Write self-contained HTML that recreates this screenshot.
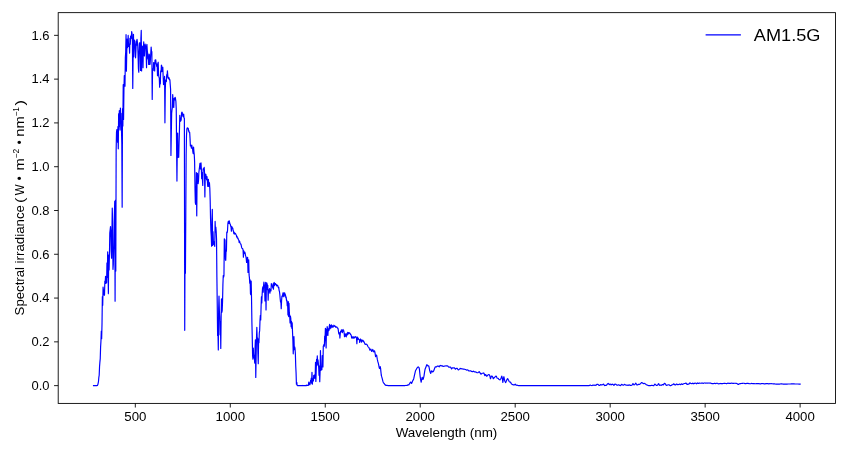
<!DOCTYPE html>
<html><head><meta charset="utf-8"><title>AM1.5G spectrum</title>
<style>
html,body{margin:0;padding:0;background:#fff;}
body{width:848px;height:452px;overflow:hidden;font-family:"Liberation Sans",sans-serif;}
svg{display:block;will-change:transform;}
text{font-family:"Liberation Sans",sans-serif;fill:#000;}
.tk{font-size:11.9px;}
.lb{font-size:12.4px;}
.lg{font-size:17.4px;}
.sp{font-size:8.6px;}
</style></head>
<body>
<svg width="848" height="452" viewBox="0 0 848 452">
<rect x="0" y="0" width="848" height="452" fill="#fff"/>
<rect x="58.2" y="12.65" width="777.25" height="390.75" fill="none" stroke="#000" stroke-width="0.88"/>
<line x1="135.32" y1="403.4" x2="135.32" y2="407.53" stroke="#000" stroke-width="0.88"/>
<text x="135.32" y="421.1" text-anchor="middle" class="tk" textLength="22.1" lengthAdjust="spacingAndGlyphs">500</text>
<line x1="230.29" y1="403.4" x2="230.29" y2="407.53" stroke="#000" stroke-width="0.88"/>
<text x="230.29" y="421.1" text-anchor="middle" class="tk" textLength="29.4" lengthAdjust="spacingAndGlyphs">1000</text>
<line x1="325.26" y1="403.4" x2="325.26" y2="407.53" stroke="#000" stroke-width="0.88"/>
<text x="325.26" y="421.1" text-anchor="middle" class="tk" textLength="29.4" lengthAdjust="spacingAndGlyphs">1500</text>
<line x1="420.23" y1="403.4" x2="420.23" y2="407.53" stroke="#000" stroke-width="0.88"/>
<text x="420.23" y="421.1" text-anchor="middle" class="tk" textLength="29.4" lengthAdjust="spacingAndGlyphs">2000</text>
<line x1="515.20" y1="403.4" x2="515.20" y2="407.53" stroke="#000" stroke-width="0.88"/>
<text x="515.20" y="421.1" text-anchor="middle" class="tk" textLength="29.4" lengthAdjust="spacingAndGlyphs">2500</text>
<line x1="610.18" y1="403.4" x2="610.18" y2="407.53" stroke="#000" stroke-width="0.88"/>
<text x="610.18" y="421.1" text-anchor="middle" class="tk" textLength="29.4" lengthAdjust="spacingAndGlyphs">3000</text>
<line x1="705.15" y1="403.4" x2="705.15" y2="407.53" stroke="#000" stroke-width="0.88"/>
<text x="705.15" y="421.1" text-anchor="middle" class="tk" textLength="29.4" lengthAdjust="spacingAndGlyphs">3500</text>
<line x1="800.12" y1="403.4" x2="800.12" y2="407.53" stroke="#000" stroke-width="0.88"/>
<text x="800.12" y="421.1" text-anchor="middle" class="tk" textLength="29.4" lengthAdjust="spacingAndGlyphs">4000</text>
<line x1="58.2" y1="385.64" x2="54.07" y2="385.64" stroke="#000" stroke-width="0.88"/>
<text x="49.5" y="389.99" text-anchor="end" class="tk" textLength="18.0" lengthAdjust="spacingAndGlyphs">0.0</text>
<line x1="58.2" y1="341.85" x2="54.07" y2="341.85" stroke="#000" stroke-width="0.88"/>
<text x="49.5" y="346.20" text-anchor="end" class="tk" textLength="18.0" lengthAdjust="spacingAndGlyphs">0.2</text>
<line x1="58.2" y1="298.07" x2="54.07" y2="298.07" stroke="#000" stroke-width="0.88"/>
<text x="49.5" y="302.42" text-anchor="end" class="tk" textLength="18.0" lengthAdjust="spacingAndGlyphs">0.4</text>
<line x1="58.2" y1="254.28" x2="54.07" y2="254.28" stroke="#000" stroke-width="0.88"/>
<text x="49.5" y="258.63" text-anchor="end" class="tk" textLength="18.0" lengthAdjust="spacingAndGlyphs">0.6</text>
<line x1="58.2" y1="210.50" x2="54.07" y2="210.50" stroke="#000" stroke-width="0.88"/>
<text x="49.5" y="214.85" text-anchor="end" class="tk" textLength="18.0" lengthAdjust="spacingAndGlyphs">0.8</text>
<line x1="58.2" y1="166.71" x2="54.07" y2="166.71" stroke="#000" stroke-width="0.88"/>
<text x="49.5" y="171.06" text-anchor="end" class="tk" textLength="18.0" lengthAdjust="spacingAndGlyphs">1.0</text>
<line x1="58.2" y1="122.92" x2="54.07" y2="122.92" stroke="#000" stroke-width="0.88"/>
<text x="49.5" y="127.27" text-anchor="end" class="tk" textLength="18.0" lengthAdjust="spacingAndGlyphs">1.2</text>
<line x1="58.2" y1="79.14" x2="54.07" y2="79.14" stroke="#000" stroke-width="0.88"/>
<text x="49.5" y="83.49" text-anchor="end" class="tk" textLength="18.0" lengthAdjust="spacingAndGlyphs">1.4</text>
<line x1="58.2" y1="35.35" x2="54.07" y2="35.35" stroke="#000" stroke-width="0.88"/>
<text x="49.5" y="39.70" text-anchor="end" class="tk" textLength="18.0" lengthAdjust="spacingAndGlyphs">1.6</text>
<polyline points="93.53,385.64 93.88,385.64 94.24,385.64 94.59,385.64 94.94,385.64 95.30,385.64 95.65,385.64 96.00,385.64 96.36,385.64 96.71,385.62 97.06,385.55 97.42,385.37 97.77,384.80 98.12,383.36 98.48,381.51 98.83,377.44 99.19,375.24 99.54,366.68 99.89,362.09 100.25,358.61 100.60,347.03 100.95,341.13 101.31,330.98 101.66,338.75 102.01,323.94 102.37,296.58 102.72,305.31 103.07,287.09 103.43,290.00 103.78,294.90 104.13,291.88 104.49,295.18 104.84,281.17 105.19,282.80 105.55,276.34 105.90,283.39 106.25,277.50 106.61,282.57 106.96,262.90 107.31,277.42 107.67,251.93 108.02,268.88 108.38,293.63 108.73,254.97 109.08,269.97 109.44,255.27 109.79,233.18 110.14,230.17 110.50,226.56 110.85,231.63 111.20,251.39 111.56,258.12 111.91,234.61 112.26,208.12 112.62,221.49 112.97,269.35 113.32,264.40 113.68,248.89 114.03,246.26 114.38,214.50 114.74,201.28 115.09,301.28 115.44,200.10 115.80,271.10 116.15,150.11 116.51,132.01 116.86,129.64 117.21,131.61 117.57,142.24 117.92,126.62 118.27,148.82 118.63,113.86 118.98,126.35 119.33,110.48 119.69,124.40 120.04,130.07 120.39,107.99 120.75,119.32 121.10,113.42 121.45,128.93 121.81,143.22 122.16,207.15 122.51,108.50 122.87,126.10 123.22,84.63 123.57,119.53 123.93,90.27 124.28,75.70 124.64,75.38 124.99,86.19 125.34,57.48 125.70,52.11 126.05,34.67 126.40,71.12 126.76,52.16 127.11,39.15 127.46,47.74 127.82,44.89 128.17,35.44 128.52,46.32 128.88,43.94 129.23,44.34 129.58,53.11 129.94,38.24 130.29,44.30 130.64,36.13 131.00,38.53 131.35,36.50 131.70,31.48 132.06,33.83 132.41,41.96 132.76,88.44 133.12,56.51 133.47,34.37 133.83,56.81 134.18,45.60 134.53,40.11 134.89,43.52 135.24,46.87 135.59,57.84 135.95,50.22 136.30,40.97 136.65,45.27 137.01,39.38 137.36,41.95 137.71,44.50 138.07,55.28 138.42,68.47 138.77,72.26 139.13,51.93 139.48,42.73 139.83,42.76 140.19,46.34 140.54,70.51 140.89,38.79 141.25,30.41 141.60,70.95 141.96,45.80 142.31,52.41 142.66,46.74 143.02,67.74 143.37,48.24 143.72,41.88 144.08,50.38 144.43,55.92 144.78,48.07 145.14,44.08 145.49,48.13 145.84,45.82 146.20,55.54 146.55,67.78 146.90,44.23 147.26,50.01 147.61,53.42 147.96,58.87 148.32,56.93 148.67,64.51 149.02,54.08 149.38,54.84 149.73,64.52 150.09,64.33 150.44,58.94 150.79,52.92 151.15,46.98 151.50,51.72 151.85,51.50 152.21,99.53 152.56,69.33 152.91,68.50 153.27,70.38 153.62,62.49 153.97,65.85 154.33,62.96 154.68,70.97 155.03,60.09 155.39,60.60 155.74,59.76 156.09,63.27 156.45,64.58 156.80,66.58 157.15,64.25 157.51,75.65 157.86,63.56 158.21,62.20 158.57,74.18 158.92,77.10 159.28,77.70 159.63,87.11 159.98,80.20 160.34,83.81 160.69,70.84 161.04,72.27 161.40,65.15 161.75,66.06 162.10,71.51 162.46,68.03 162.81,67.32 163.16,76.70 163.52,84.59 163.87,81.95 164.22,80.17 164.58,76.46 164.93,122.86 165.28,89.71 165.64,80.02 165.99,81.83 166.34,81.61 166.70,74.50 167.05,76.83 167.41,70.86 167.76,75.32 168.11,78.00 168.47,78.83 168.82,77.58 169.17,78.32 169.53,79.93 169.88,79.61 170.23,84.50 170.59,89.29 170.94,155.52 171.29,133.92 171.65,113.56 172.00,109.99 172.35,107.36 172.71,94.59 173.06,101.08 173.41,106.95 173.77,107.48 174.12,98.45 174.47,98.06 174.83,99.97 175.18,97.42 175.54,98.99 175.89,101.38 176.24,108.78 176.60,148.67 176.95,181.08 177.30,146.49 177.66,133.02 178.01,157.48 178.36,148.41 178.72,157.25 179.07,142.98 179.42,131.19 179.78,115.37 180.13,121.44 180.48,118.10 180.84,120.88 181.19,119.63 181.54,113.26 181.90,112.18 182.25,112.64 182.60,115.06 182.96,116.44 183.31,116.65 183.66,114.16 184.02,117.94 184.37,118.45 184.73,330.34 185.08,237.31 185.43,273.20 185.79,215.66 186.14,155.13 186.49,135.66 186.85,129.22 187.20,127.94 187.55,127.93 187.91,128.70 188.26,128.38 188.61,131.27 188.97,130.80 189.32,132.74 189.67,132.39 190.03,138.17 190.38,145.99 190.73,145.28 191.09,146.24 191.44,148.29 191.79,145.18 192.15,147.68 192.50,148.24 192.86,151.98 193.21,153.65 193.56,147.01 193.92,151.75 194.27,154.68 194.62,161.74 194.98,187.98 195.33,202.74 195.68,204.33 196.04,193.82 196.39,172.58 196.74,215.87 197.10,175.39 197.45,173.42 197.80,182.63 198.16,183.65 198.51,180.37 198.86,172.70 199.22,169.39 199.57,166.79 199.92,163.44 200.28,167.36 200.63,169.13 200.99,162.75 201.34,168.47 201.69,178.76 202.05,172.58 202.40,178.55 202.75,185.39 203.11,168.99 203.46,168.51 203.81,169.48 204.17,167.30 204.52,172.43 204.87,196.96 205.23,175.76 205.58,174.15 205.93,174.60 206.29,178.42 206.64,179.90 206.99,176.61 207.35,180.45 207.70,186.30 208.05,182.15 208.41,179.40 208.76,186.51 209.11,182.32 209.47,183.20 209.82,188.59 210.18,200.15 210.53,218.34 210.88,230.44 211.24,236.23 211.59,246.16 211.94,220.79 212.30,209.23 212.65,245.45 213.00,231.51 213.36,240.75 213.71,244.31 214.06,241.93 214.42,244.69 214.77,246.31 215.12,221.45 215.48,232.13 215.83,227.07 216.18,231.23 216.54,239.39 216.89,277.07 217.24,303.78 217.60,335.53 217.95,331.65 218.31,349.91 218.66,308.33 219.01,296.13 219.37,310.56 219.72,316.72 220.07,334.80 220.43,322.04 220.78,348.46 221.13,317.17 221.49,298.84 221.84,312.42 222.19,310.60 222.55,301.34 222.90,285.10 223.25,275.61 223.61,277.11 223.96,275.62 224.31,238.81 224.67,239.66 225.02,239.82 225.37,259.29 225.73,260.38 226.08,250.20 226.44,251.13 226.79,232.11 227.14,232.76 227.50,230.96 227.85,223.95 228.20,221.70 228.56,221.24 228.91,223.43 229.26,220.85 229.62,222.61 229.97,223.90 230.32,224.30 230.68,226.19 231.03,227.04 231.38,231.25 231.74,226.45 232.09,228.13 232.44,227.70 232.80,228.39 233.15,230.55 233.50,231.53 233.86,233.67 234.21,232.22 234.56,234.04 234.92,233.88 235.27,233.35 235.63,233.89 235.98,234.50 236.33,235.06 236.69,237.02 237.04,236.29 237.39,238.15 237.75,237.83 238.10,238.56 238.45,239.97 238.81,240.02 239.16,242.45 239.51,241.01 239.87,242.27 240.22,243.20 240.57,244.04 240.93,244.12 241.28,245.73 241.63,247.44 241.99,248.16 242.34,248.43 242.69,248.73 243.05,249.87 243.40,257.15 243.76,250.92 244.11,252.86 244.46,253.48 244.82,252.15 245.17,253.46 245.52,255.61 245.88,256.48 246.23,258.65 246.58,262.47 246.94,257.82 247.29,261.43 247.64,257.40 248.00,272.42 248.35,271.98 248.70,259.83 249.06,274.68 249.41,277.65 249.76,283.28 250.12,279.93 250.47,293.81 250.82,294.71 251.18,281.14 251.53,298.04 251.89,322.07 252.24,336.86 252.59,355.57 252.95,359.10 253.30,348.15 253.65,357.58 254.01,355.12 254.36,357.61 254.71,363.06 255.07,348.25 255.42,339.80 255.77,377.46 256.13,356.47 256.48,339.08 256.83,327.27 257.19,339.10 257.54,337.88 257.89,352.82 258.25,363.70 258.60,338.95 258.95,342.62 259.31,333.04 259.66,330.63 260.01,320.47 260.37,315.41 260.72,319.98 261.08,306.91 261.43,296.81 261.78,302.96 262.14,294.49 262.49,288.92 262.84,286.94 263.20,292.17 263.55,286.02 263.90,282.20 264.26,284.36 264.61,286.97 264.96,300.94 265.32,294.84 265.67,282.46 266.02,309.92 266.38,284.46 266.73,282.85 267.08,283.89 267.44,289.77 267.79,285.33 268.14,300.28 268.50,289.95 268.85,290.94 269.21,291.90 269.56,288.66 269.91,293.28 270.27,289.55 270.62,289.43 270.97,290.86 271.33,283.65 271.68,285.16 272.03,285.93 272.39,285.69 272.74,287.99 273.09,283.96 273.45,289.27 273.80,283.47 274.15,282.47 274.51,285.70 274.86,283.44 275.21,283.59 275.57,283.62 275.92,284.70 276.27,284.50 276.63,285.95 276.98,285.16 277.34,285.32 277.69,285.32 278.04,286.70 278.40,287.86 278.75,287.26 279.10,290.32 279.46,291.52 279.81,294.31 280.16,298.45 280.52,302.02 280.87,301.10 281.22,308.71 281.58,300.75 281.93,296.16 282.28,296.72 282.64,294.77 282.99,292.92 283.34,292.87 283.70,296.74 284.05,296.34 284.40,292.88 284.76,292.96 285.11,295.15 285.46,294.72 285.82,297.66 286.17,297.10 286.53,300.62 286.88,300.17 287.23,305.78 287.59,302.12 287.94,314.95 288.29,301.55 288.65,316.56 289.00,303.26 289.35,312.91 289.71,316.20 290.06,322.89 290.41,316.08 290.77,318.33 291.12,326.72 291.47,321.32 291.83,328.29 292.18,322.79 292.53,332.24 292.89,340.37 293.24,353.85 293.59,343.31 293.95,336.57 294.30,349.59 294.66,346.89 295.01,348.46 295.36,353.26 295.72,365.77 296.07,372.77 296.42,384.16 296.78,382.22 297.13,385.24 297.48,385.59 297.84,385.63 298.19,385.63 298.54,385.64 298.90,385.64 299.25,385.64 299.60,385.64 299.96,385.64 300.31,385.64 300.66,385.64 301.02,385.63 301.37,385.59 301.72,385.58 302.08,385.41 302.43,385.62 302.79,385.64 303.14,385.64 303.49,385.64 303.85,385.61 304.20,385.51 304.55,385.56 304.91,385.62 305.26,385.63 305.61,385.63 305.97,385.40 306.32,385.64 306.67,385.22 307.03,385.48 307.38,385.25 307.73,385.37 308.09,385.52 308.44,385.12 308.79,382.07 309.15,384.30 309.50,383.05 309.85,384.89 310.21,383.68 310.56,380.46 310.91,381.00 311.27,377.97 311.62,383.22 311.98,372.29 312.33,384.21 312.68,380.32 313.04,378.59 313.39,380.91 313.74,375.37 314.10,378.46 314.45,375.47 314.80,374.60 315.16,378.27 315.51,362.28 315.86,381.49 316.22,370.33 316.57,359.38 316.92,365.59 317.28,355.90 317.63,364.05 317.98,359.78 318.34,363.05 318.69,367.74 319.04,375.30 319.40,366.20 319.75,381.70 320.11,371.01 320.46,350.62 320.81,370.46 321.17,366.31 321.52,368.77 321.87,369.66 322.23,355.60 322.58,358.58 322.93,366.90 323.29,346.08 323.64,345.74 323.99,344.31 324.35,346.25 324.70,336.03 325.05,338.56 325.41,328.26 325.76,341.23 326.11,347.99 326.47,329.41 326.82,335.07 327.17,326.51 327.53,328.51 327.88,335.48 328.24,328.74 328.59,330.74 328.94,330.47 329.30,326.02 329.65,324.43 330.00,328.84 330.36,328.03 330.71,325.52 331.06,328.03 331.42,324.80 331.77,326.88 332.12,325.55 332.48,326.08 332.83,327.38 333.18,326.70 333.54,326.07 333.89,325.20 334.24,326.26 334.60,325.90 334.95,326.40 335.30,326.23 335.66,327.22 336.01,327.05 336.36,326.90 336.72,327.17 337.07,327.10 337.43,328.10 337.78,328.08 338.13,329.02 338.49,331.66 338.84,333.89 339.19,333.83 339.55,332.83 339.90,338.06 340.25,333.84 340.61,331.38 340.96,331.87 341.31,330.03 341.67,329.88 342.02,331.63 342.37,332.70 342.73,330.51 343.08,329.46 343.43,331.14 343.79,330.72 344.14,333.00 344.49,336.72 344.85,336.49 345.20,333.82 345.56,334.35 345.91,335.71 346.26,336.86 346.62,334.52 346.97,333.28 347.32,335.04 347.68,332.33 348.03,334.12 348.38,333.83 348.74,332.53 349.09,333.39 349.44,332.89 349.80,332.98 350.15,333.52 350.50,334.57 350.86,334.53 351.21,335.24 351.56,337.44 351.92,338.21 352.27,337.54 352.62,336.77 352.98,338.01 353.33,337.70 353.69,336.84 354.04,338.30 354.39,337.42 354.75,337.03 355.10,336.93 355.45,337.17 355.81,336.66 356.16,337.20 356.51,338.33 356.87,343.74 357.22,338.63 357.57,337.18 357.93,339.30 358.28,338.39 358.63,339.20 358.99,339.55 359.34,339.68 359.69,342.50 360.05,340.21 360.40,338.96 360.75,340.63 361.11,340.10 361.46,342.27 361.81,339.89 362.17,340.48 362.52,340.87 362.88,340.25 363.23,341.77 363.58,341.10 363.94,341.71 364.29,342.54 364.64,343.35 365.00,344.15 365.35,344.42 365.70,344.28 366.06,344.14 366.41,344.31 366.76,344.53 367.12,344.84 367.47,345.57 367.82,346.29 368.18,346.82 368.53,347.14 368.88,347.47 369.24,348.37 369.59,349.39 369.94,350.20 370.30,349.66 370.65,349.12 371.01,349.31 371.36,350.39 371.71,351.48 372.07,351.07 372.42,350.19 372.77,349.45 373.13,350.48 373.48,351.51 373.83,351.92 374.19,351.35 374.54,350.79 374.89,352.16 375.25,354.37 375.60,356.55 375.95,355.82 376.31,355.10 376.66,355.32 377.01,357.51 377.37,359.70 377.72,361.24 378.07,362.41 378.43,363.58 378.78,365.46 379.14,367.38 379.49,368.53 379.84,367.56 380.20,366.58 380.55,368.15 380.90,371.57 381.26,374.99 381.61,376.46 381.96,377.69 382.32,378.95 382.67,380.34 383.02,381.73 383.38,382.61 383.73,383.03 384.08,383.45 384.44,383.95 384.79,384.47 385.14,384.95 385.50,385.13 385.85,385.32 386.20,385.41 386.56,385.39 386.91,385.37 387.26,385.44 387.62,385.54 387.97,385.64 388.33,385.64 388.68,385.64 389.03,385.64 389.39,385.64 389.74,385.64 390.09,385.64 390.45,385.64 390.80,385.64 391.15,385.64 391.51,385.64 391.86,385.64 392.21,385.64 392.57,385.64 392.92,385.64 393.27,385.64 393.63,385.64 393.98,385.64 394.33,385.64 394.69,385.64 395.04,385.64 395.39,385.64 395.75,385.64 396.10,385.64 396.46,385.64 396.81,385.63 397.16,385.63 397.52,385.62 397.87,385.62 398.22,385.63 398.58,385.62 398.93,385.61 399.28,385.59 399.64,385.60 399.99,385.60 400.34,385.61 400.70,385.62 401.05,385.63 401.40,385.64 401.76,385.64 402.11,385.64 402.46,385.64 402.82,385.64 403.17,385.63 403.52,385.63 403.88,385.63 404.23,385.62 404.59,385.58 404.94,385.55 405.29,385.51 405.65,385.47 406.00,385.43 406.35,385.47 406.71,385.50 407.06,385.43 407.41,385.18 407.77,384.94 408.12,384.87 408.47,384.89 408.83,384.92 409.18,384.32 409.53,383.70 409.89,383.12 410.24,382.65 410.59,382.17 410.95,382.30 411.30,382.85 411.65,383.39 412.01,382.56 412.36,381.59 412.71,380.72 413.07,380.18 413.42,379.64 413.78,378.49 414.13,376.84 414.48,375.19 414.84,373.62 415.19,372.08 415.54,370.68 415.90,370.06 416.25,369.43 416.60,368.81 416.96,368.20 417.31,367.58 417.66,367.29 418.02,367.08 418.37,366.93 418.72,367.29 419.08,367.65 419.43,369.33 419.78,372.84 420.14,376.34 420.49,378.66 420.84,380.55 421.20,382.27 421.55,380.25 421.91,378.23 422.26,377.32 422.61,378.39 422.97,379.45 423.32,378.80 423.67,377.31 424.03,375.82 424.38,373.46 424.73,371.10 425.09,369.17 425.44,368.29 425.79,367.41 426.15,366.49 426.50,365.55 426.85,364.61 427.21,365.03 427.56,365.57 427.91,365.96 428.27,365.85 428.62,365.75 428.97,366.74 429.33,368.62 429.68,370.51 430.04,371.68 430.39,372.74 430.74,373.41 431.10,372.25 431.45,371.08 431.80,370.78 432.16,371.38 432.51,371.97 432.86,371.84 433.22,371.53 433.57,371.15 433.92,370.19 434.28,369.23 434.63,368.36 434.98,367.59 435.34,366.83 435.69,366.74 436.04,366.88 436.40,366.99 436.75,366.66 437.10,366.34 437.46,366.11 437.81,366.06 438.16,366.01 438.52,366.19 438.87,366.49 439.23,366.78 439.58,366.21 439.93,365.64 440.29,365.33 440.64,365.62 440.99,365.90 441.35,365.91 441.70,365.74 442.05,365.58 442.41,365.88 442.76,366.21 443.11,366.44 443.47,366.36 443.82,366.27 444.17,366.18 444.53,366.09 444.88,366.00 445.23,365.97 445.59,365.94 445.94,365.91 446.29,365.86 446.65,365.80 447.00,365.82 447.36,365.92 447.71,366.03 448.06,366.37 448.42,366.76 448.77,367.11 449.12,367.09 449.48,367.07 449.83,367.09 450.18,367.14 450.54,367.20 450.89,367.69 451.24,368.33 451.60,368.90 451.95,368.44 452.30,367.98 452.66,367.74 453.01,367.86 453.36,367.99 453.72,367.95 454.07,367.84 454.42,367.73 454.78,368.32 455.13,368.91 455.49,369.20 455.84,368.83 456.19,368.46 456.55,368.33 456.90,368.34 457.25,368.34 457.61,368.94 457.96,369.58 458.31,369.99 458.67,369.76 459.02,369.53 459.37,369.19 459.73,368.76 460.08,368.32 460.43,368.49 460.79,368.74 461.14,368.92 461.49,368.80 461.85,368.68 462.20,368.72 462.55,368.90 462.91,369.09 463.26,369.10 463.61,369.07 463.97,369.07 464.32,369.19 464.68,369.31 465.03,369.42 465.38,369.51 465.74,369.61 466.09,369.77 466.44,369.96 466.80,370.12 467.15,370.03 467.50,369.94 467.86,370.02 468.21,370.37 468.56,370.72 468.92,370.86 469.27,370.92 469.62,370.98 469.98,370.89 470.33,370.79 470.68,370.81 471.04,371.08 471.39,371.34 471.74,371.48 472.10,371.55 472.45,371.62 472.81,371.45 473.16,371.26 473.51,371.20 473.87,371.46 474.22,371.72 474.57,371.82 474.93,371.81 475.28,371.80 475.63,371.94 475.99,372.10 476.34,372.27 476.69,372.47 477.05,372.67 477.40,372.75 477.75,372.72 478.11,372.69 478.46,372.36 478.81,371.98 479.17,371.72 479.52,372.19 479.87,372.66 480.23,373.14 480.58,373.64 480.94,374.14 481.29,373.98 481.64,373.64 482.00,373.33 482.35,373.28 482.70,373.23 483.06,373.16 483.41,373.07 483.76,372.97 484.12,373.65 484.47,374.64 484.82,375.59 485.18,375.14 485.53,374.68 485.88,374.66 486.24,375.46 486.59,376.27 486.94,376.23 487.30,375.75 487.65,375.26 488.00,375.03 488.36,374.80 488.71,374.66 489.06,374.73 489.42,374.79 489.77,375.72 490.13,377.23 490.48,378.75 490.83,377.91 491.19,376.82 491.54,376.00 491.89,376.13 492.25,376.26 492.60,376.83 492.95,377.79 493.31,378.74 493.66,378.46 494.01,377.95 494.37,377.47 494.72,377.19 495.07,376.90 495.43,376.61 495.78,376.32 496.13,376.04 496.49,376.65 496.84,377.51 497.19,378.28 497.55,378.26 497.90,378.25 498.26,378.45 498.61,378.98 498.96,379.52 499.32,379.70 499.67,379.76 500.02,379.80 500.38,379.27 500.73,378.74 501.08,378.05 501.44,377.07 501.79,376.09 502.14,377.40 502.50,379.86 502.85,382.33 503.20,380.12 503.56,377.81 503.91,376.70 504.26,378.53 504.62,380.36 504.97,381.44 505.32,382.02 505.68,382.61 506.03,381.82 506.39,380.90 506.74,380.04 507.09,379.34 507.45,378.65 507.80,378.74 508.15,379.49 508.51,380.24 508.86,380.87 509.21,381.47 509.57,381.98 509.92,382.00 510.27,382.02 510.63,382.37 510.98,383.05 511.33,383.74 511.69,384.04 512.04,384.23 512.39,384.43 512.75,384.60 513.10,384.77 513.45,384.89 513.81,384.94 514.16,385.00 514.51,384.76 514.87,384.42 515.22,384.11 515.58,384.57 515.93,385.02 516.28,385.29 516.64,385.23 516.99,385.17 517.34,385.25 517.70,385.39 518.05,385.52 518.40,385.54 518.76,385.55 519.11,385.57 519.46,385.59 519.82,385.62 520.17,385.63 520.52,385.63 520.88,385.64 521.23,385.64 521.58,385.64 521.94,385.64 522.29,385.64 522.64,385.64 523.00,385.64 523.35,385.64 523.71,385.64 524.06,385.64 524.41,385.64 524.77,385.64 525.12,385.64 525.47,385.64 525.83,385.64 526.18,385.64 526.53,385.64 526.89,385.64 527.24,385.64 527.59,385.64 527.95,385.64 528.30,385.64 528.65,385.64 529.01,385.64 529.36,385.64 529.71,385.64 530.07,385.64 530.42,385.64 530.77,385.64 531.13,385.64 531.48,385.64 531.84,385.64 532.19,385.64 532.54,385.64 532.90,385.64 533.25,385.64 533.60,385.64 533.96,385.64 534.31,385.64 534.66,385.64 535.02,385.64 535.37,385.64 535.72,385.64 536.08,385.64 536.43,385.64 536.78,385.64 537.14,385.64 537.49,385.64 537.84,385.64 538.20,385.64 538.55,385.64 538.90,385.64 539.26,385.64 539.61,385.64 539.96,385.64 540.32,385.64 540.67,385.64 541.03,385.64 541.38,385.64 541.73,385.64 542.09,385.64 542.44,385.64 542.79,385.64 543.15,385.64 543.50,385.64 543.85,385.64 544.21,385.64 544.56,385.64 544.91,385.64 545.27,385.64 545.62,385.64 545.97,385.64 546.33,385.64 546.68,385.64 547.03,385.64 547.39,385.64 547.74,385.64 548.09,385.64 548.45,385.64 548.80,385.64 549.16,385.64 549.51,385.64 549.86,385.64 550.22,385.64 550.57,385.64 550.92,385.64 551.28,385.64 551.63,385.64 551.98,385.64 552.34,385.64 552.69,385.64 553.04,385.64 553.40,385.64 553.75,385.64 554.10,385.64 554.46,385.64 554.81,385.64 555.16,385.64 555.52,385.64 555.87,385.64 556.22,385.64 556.58,385.64 556.93,385.64 557.29,385.64 557.64,385.64 557.99,385.64 558.35,385.64 558.70,385.64 559.05,385.64 559.41,385.64 559.76,385.64 560.11,385.64 560.47,385.64 560.82,385.64 561.17,385.64 561.53,385.64 561.88,385.64 562.23,385.64 562.59,385.64 562.94,385.64 563.29,385.64 563.65,385.64 564.00,385.64 564.35,385.64 564.71,385.64 565.06,385.64 565.41,385.64 565.77,385.64 566.12,385.64 566.48,385.64 566.83,385.64 567.18,385.64 567.54,385.64 567.89,385.64 568.24,385.64 568.60,385.64 568.95,385.64 569.30,385.64 569.66,385.64 570.01,385.64 570.36,385.64 570.72,385.64 571.07,385.64 571.42,385.64 571.78,385.64 572.13,385.64 572.48,385.64 572.84,385.64 573.19,385.64 573.54,385.64 573.90,385.64 574.25,385.64 574.61,385.64 574.96,385.64 575.31,385.64 575.67,385.64 576.02,385.64 576.37,385.64 576.73,385.64 577.08,385.64 577.43,385.64 577.79,385.64 578.14,385.64 578.49,385.64 578.85,385.64 579.20,385.64 579.55,385.64 579.91,385.64 580.26,385.63 580.61,385.63 580.97,385.63 581.32,385.64 581.67,385.64 582.03,385.64 582.38,385.64 582.74,385.64 583.09,385.64 583.44,385.63 583.80,385.63 584.15,385.61 584.50,385.60 584.86,385.61 585.21,385.63 585.56,385.63 585.92,385.60 586.27,385.57 586.62,385.56 586.98,385.57 587.33,385.58 587.68,385.57 588.04,385.55 588.39,385.54 588.74,385.56 589.10,385.59 589.45,385.50 589.80,385.30 590.16,385.10 590.51,385.17 590.86,385.33 591.22,385.47 591.57,385.52 591.93,385.58 592.28,385.53 592.63,385.31 592.99,385.10 593.34,385.13 593.69,385.25 594.05,385.36 594.40,385.22 594.75,385.09 595.11,385.06 595.46,385.20 595.81,385.35 596.17,385.14 596.52,384.75 596.87,384.36 597.23,384.30 597.58,384.25 597.93,384.33 598.29,384.73 598.64,385.13 598.99,385.29 599.35,385.31 599.70,385.32 600.06,385.04 600.41,384.73 600.76,384.55 601.12,384.78 601.47,385.02 601.82,385.03 602.18,384.84 602.53,384.66 602.88,384.43 603.24,384.20 603.59,384.11 603.94,384.69 604.30,385.27 604.65,385.54 605.00,385.50 605.36,385.46 605.71,385.42 606.06,385.38 606.42,385.29 606.77,384.84 607.12,384.38 607.48,384.00 607.83,383.73 608.19,383.46 608.54,383.75 608.89,384.24 609.25,384.69 609.60,384.40 609.95,384.11 610.31,384.07 610.66,384.47 611.01,384.88 611.37,384.79 611.72,384.46 612.07,384.14 612.43,384.24 612.78,384.35 613.13,384.54 613.49,384.95 613.84,385.35 614.19,385.15 614.55,384.59 614.90,384.03 615.25,384.10 615.61,384.22 615.96,384.38 616.31,384.67 616.67,384.96 617.02,385.11 617.38,385.15 617.73,385.19 618.08,385.04 618.44,384.86 618.79,384.76 619.14,385.02 619.50,385.28 619.85,385.44 620.20,385.50 620.56,385.56 620.91,385.18 621.26,384.69 621.62,384.29 621.97,384.57 622.32,384.85 622.68,385.04 623.03,385.14 623.38,385.23 623.74,384.99 624.09,384.65 624.44,384.33 624.80,384.53 625.15,384.72 625.51,384.90 625.86,385.05 626.21,385.20 626.57,385.22 626.92,385.17 627.27,385.12 627.63,385.26 627.98,385.40 628.33,385.40 628.69,385.09 629.04,384.79 629.39,384.85 629.75,385.14 630.10,385.42 630.45,385.44 630.81,385.45 631.16,385.42 631.51,385.31 631.87,385.19 632.22,384.79 632.57,384.18 632.93,383.56 633.28,383.98 633.64,384.53 633.99,384.93 634.34,384.71 634.70,384.49 635.05,384.14 635.40,383.68 635.76,383.22 636.11,383.68 636.46,384.34 636.82,384.91 637.17,384.92 637.52,384.92 637.88,384.80 638.23,384.52 638.58,384.24 638.94,384.24 639.29,384.33 639.64,384.38 640.00,384.09 640.35,383.80 640.70,383.47 641.06,383.08 641.41,382.69 641.76,382.66 642.12,382.78 642.47,382.90 642.83,383.17 643.18,383.44 643.53,383.58 643.89,383.47 644.24,383.35 644.59,383.45 644.95,383.65 645.30,383.86 645.65,384.17 646.01,384.48 646.36,384.74 646.71,384.87 647.07,385.00 647.42,385.16 647.77,385.34 648.13,385.52 648.48,385.55 648.83,385.56 649.19,385.57 649.54,385.59 649.89,385.60 650.25,385.59 650.60,385.56 650.96,385.53 651.31,385.45 651.66,385.36 652.02,385.30 652.37,385.42 652.72,385.53 653.08,385.59 653.43,385.58 653.78,385.57 654.14,385.13 654.49,384.56 654.84,384.07 655.20,384.36 655.55,384.64 655.90,384.92 656.26,385.16 656.61,385.41 656.96,385.37 657.32,385.22 657.67,385.05 658.02,384.46 658.38,383.86 658.73,383.70 659.09,384.41 659.44,385.12 659.79,385.31 660.15,385.21 660.50,385.11 660.85,385.20 661.21,385.30 661.56,385.27 661.91,384.88 662.27,384.50 662.62,384.49 662.97,384.74 663.33,384.99 663.68,384.40 664.03,383.73 664.39,383.24 664.74,383.44 665.09,383.63 665.45,384.05 665.80,384.66 666.15,385.27 666.51,385.33 666.86,385.29 667.21,385.22 667.57,385.05 667.92,384.87 668.28,384.78 668.63,384.78 668.98,384.78 669.34,385.03 669.69,385.35 670.04,385.63 670.40,385.63 670.75,385.63 671.10,385.51 671.46,385.23 671.81,384.95 672.16,384.80 672.52,384.71 672.87,384.61 673.22,384.25 673.58,383.89 673.93,383.81 674.28,384.27 674.64,384.73 674.99,384.88 675.34,384.87 675.70,384.86 676.05,384.51 676.41,384.14 676.76,383.98 677.11,384.34 677.47,384.70 677.82,384.76 678.17,384.63 678.53,384.50 678.88,384.35 679.23,384.19 679.59,384.12 679.94,384.39 680.29,384.65 680.65,384.58 681.00,384.21 681.35,383.84 681.71,384.02 682.06,384.29 682.41,384.49 682.77,384.29 683.12,384.10 683.47,383.91 683.83,383.71 684.18,383.52 684.54,383.50 684.89,383.53 685.24,383.52 685.60,383.28 685.95,383.04 686.30,383.18 686.66,383.83 687.01,384.49 687.36,384.51 687.72,384.29 688.07,384.09 688.42,384.07 688.78,384.06 689.13,383.87 689.48,383.39 689.84,382.91 690.19,382.93 690.54,383.19 690.90,383.44 691.25,383.55 691.60,383.66 691.96,383.67 692.31,383.43 692.66,383.20 693.02,383.28 693.37,383.57 693.73,383.86 694.08,383.63 694.43,383.36 694.79,383.16 695.14,383.18 695.49,383.19 695.85,383.32 696.20,383.56 696.55,383.79 696.91,383.52 697.26,383.18 697.61,382.93 697.97,383.16 698.32,383.38 698.67,383.39 699.03,383.19 699.38,382.99 699.73,383.04 700.09,383.15 700.44,383.24 700.79,383.22 701.15,383.19 701.50,383.15 701.86,383.08 702.21,383.01 702.56,383.09 702.92,383.23 703.27,383.35 703.62,383.20 703.98,383.05 704.33,382.96 704.68,382.99 705.04,383.02 705.39,383.04 705.74,383.04 706.10,383.05 706.45,383.04 706.80,383.03 707.16,383.03 707.51,383.07 707.86,383.11 708.22,383.09 708.57,383.04 708.92,382.99 709.28,383.04 709.63,383.09 709.99,383.14 710.34,383.17 710.69,383.19 711.05,383.28 711.40,383.42 711.75,383.55 712.11,383.60 712.46,383.63 712.81,383.65 713.17,383.61 713.52,383.57 713.87,383.51 714.23,383.43 714.58,383.35 714.93,383.43 715.29,383.55 715.64,383.64 715.99,383.50 716.35,383.35 716.70,383.27 717.05,383.27 717.41,383.26 717.76,383.42 718.11,383.62 718.47,383.81 718.82,383.79 719.18,383.76 719.53,383.70 719.88,383.57 720.24,383.45 720.59,383.47 720.94,383.55 721.30,383.63 721.65,383.61 722.00,383.59 722.36,383.56 722.71,383.55 723.06,383.53 723.42,383.49 723.77,383.44 724.12,383.39 724.48,383.38 724.83,383.38 725.18,383.39 725.54,383.46 725.89,383.53 726.24,383.56 726.60,383.56 726.95,383.56 727.31,383.41 727.66,383.24 728.01,383.12 728.37,383.23 728.72,383.34 729.07,383.41 729.43,383.43 729.78,383.46 730.13,383.44 730.49,383.41 730.84,383.37 731.19,383.27 731.55,383.18 731.90,383.16 732.25,383.23 732.61,383.30 732.96,383.35 733.31,383.39 733.67,383.42 734.02,383.35 734.37,383.28 734.73,383.24 735.08,383.24 735.44,383.25 735.79,383.29 736.14,383.34 736.50,383.40 736.85,383.59 737.20,383.78 737.56,383.99 737.91,384.24 738.26,384.49 738.62,384.40 738.97,384.11 739.32,383.83 739.68,383.73 740.03,383.64 740.38,383.57 740.74,383.55 741.09,383.53 741.44,383.50 741.80,383.46 742.15,383.42 742.50,383.37 742.86,383.31 743.21,383.26 743.56,383.27 743.92,383.28 744.27,383.34 744.63,383.46 744.98,383.57 745.33,383.60 745.69,383.61 746.04,383.60 746.39,383.51 746.75,383.42 747.10,383.35 747.45,383.33 747.81,383.30 748.16,383.39 748.51,383.50 748.87,383.61 749.22,383.67 749.57,383.73 749.93,383.75 750.28,383.73 750.63,383.71 750.99,383.61 751.34,383.49 751.69,383.38 752.05,383.46 752.40,383.55 752.76,383.61 753.11,383.64 753.46,383.66 753.82,383.68 754.17,383.69 754.52,383.70 754.88,383.72 755.23,383.75 755.58,383.75 755.94,383.71 756.29,383.66 756.64,383.64 757.00,383.65 757.35,383.66 757.70,383.62 758.06,383.58 758.41,383.56 758.76,383.62 759.12,383.68 759.47,383.76 759.82,383.84 760.18,383.93 760.53,383.86 760.89,383.77 761.24,383.68 761.59,383.60 761.95,383.52 762.30,383.50 762.65,383.55 763.01,383.59 763.36,383.67 763.71,383.76 764.07,383.84 764.42,383.88 764.77,383.92 765.13,383.88 765.48,383.72 765.83,383.57 766.19,383.53 766.54,383.55 766.89,383.56 767.25,383.55 767.60,383.54 767.95,383.59 768.31,383.75 768.66,383.90 769.01,383.89 769.37,383.78 769.72,383.68 770.08,383.69 770.43,383.71 770.78,383.72 771.14,383.71 771.49,383.71 771.84,383.72 772.20,383.75 772.55,383.77 772.90,383.81 773.26,383.86 773.61,383.89 773.96,383.88 774.32,383.87 774.67,383.90 775.02,383.96 775.38,384.02 775.73,384.07 776.08,384.12 776.44,384.16 776.79,384.18 777.14,384.20 777.50,384.20 777.85,384.18 778.21,384.16 778.56,384.15 778.91,384.14 779.27,384.13 779.62,384.08 779.97,384.03 780.33,383.99 780.68,383.95 781.03,383.91 781.39,383.90 781.74,383.90 782.09,383.91 782.45,383.97 782.80,384.04 783.15,384.08 783.51,384.09 783.86,384.11 784.21,384.11 784.57,384.11 784.92,384.12 785.27,384.13 785.63,384.13 785.98,384.13 786.34,384.12 786.69,384.10 787.04,384.08 787.40,384.06 787.75,384.03 788.10,384.02 788.46,384.02 788.81,384.02 789.16,384.00 789.52,383.99 789.87,383.98 790.22,383.98 790.58,383.97 790.93,383.96 791.28,383.95 791.64,383.95 791.99,383.95 792.34,383.94 792.70,383.94 793.05,383.94 793.40,383.93 793.76,383.94 794.11,383.95 794.46,383.96 794.82,383.97 795.17,383.99 795.53,384.00 795.88,384.01 796.23,384.02 796.59,384.02 796.94,384.01 797.29,384.01 797.65,384.02 798.00,384.02 798.35,384.03 798.71,384.04 799.06,384.06 799.41,384.07 799.77,384.07 800.12,384.08" fill="none" stroke="#0000ff" stroke-width="1.18" stroke-linejoin="round" stroke-linecap="square"/>
<text x="446.5" y="436.7" text-anchor="middle" class="lb" textLength="101.6" lengthAdjust="spacingAndGlyphs">Wavelength (nm)</text>
<text transform="translate(23.6,315.4) rotate(-90)" class="lb" textLength="48.4" lengthAdjust="spacingAndGlyphs">Spectral</text>
<text transform="translate(23.6,263.4) rotate(-90)" class="lb" textLength="58.4" lengthAdjust="spacingAndGlyphs">irradiance</text>
<text transform="translate(23.6,203.0) rotate(-90)" class="lb" textLength="5.4" lengthAdjust="spacingAndGlyphs">(</text>
<text transform="translate(23.6,195.2) rotate(-90)" class="lb" textLength="10.8" lengthAdjust="spacingAndGlyphs">W</text>
<text transform="translate(23.6,180.4) rotate(-90)" class="lb">•</text>
<text transform="translate(23.6,170.6) rotate(-90)" class="lb" textLength="12.2" lengthAdjust="spacingAndGlyphs">m</text>
<text transform="translate(19.0,158.4) rotate(-90)" class="sp" textLength="9.6" lengthAdjust="spacingAndGlyphs">−2</text>
<text transform="translate(23.6,144.4) rotate(-90)" class="lb">•</text>
<text transform="translate(23.6,136.8) rotate(-90)" class="lb" textLength="20.6" lengthAdjust="spacingAndGlyphs">nm</text>
<text transform="translate(19.0,116.6) rotate(-90)" class="sp" textLength="9.6" lengthAdjust="spacingAndGlyphs">−1</text>
<text transform="translate(23.6,105.4) rotate(-90)" class="lb" textLength="5.4" lengthAdjust="spacingAndGlyphs">)</text>
<line x1="706.2" y1="34.9" x2="740.3" y2="34.9" stroke="#0000ff" stroke-width="1.18" stroke-linecap="square"/>
<text x="753.8" y="40.8" class="lg" textLength="66.6" lengthAdjust="spacingAndGlyphs">AM1.5G</text>
</svg>
</body></html>
